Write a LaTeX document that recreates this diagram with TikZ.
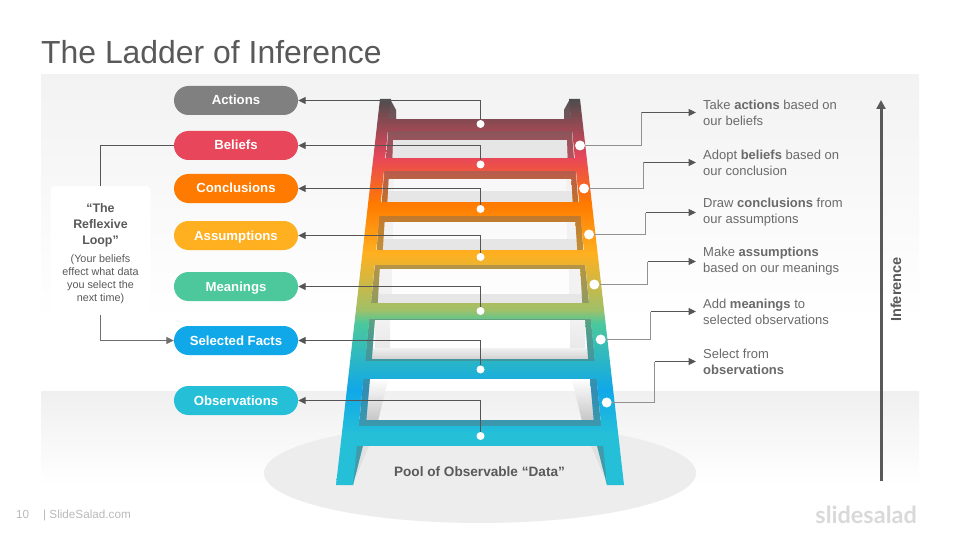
\documentclass[tikz,border=0pt]{standalone}
\usepackage{fontspec}
\setmainfont{Liberation Sans}
\newfontfamily\logofont{Lato}
\usetikzlibrary{arrows.meta}
\definecolor{cgray}{HTML}{808080}
\definecolor{cred}{HTML}{E8465A}
\definecolor{corange}{HTML}{FF7A00}
\definecolor{camber}{HTML}{FFB020}
\definecolor{colive}{HTML}{A0C068}
\definecolor{cgreen}{HTML}{4CC89C}
\definecolor{cblue}{HTML}{10A8E8}
\definecolor{ccyan}{HTML}{25C0D8}
\definecolor{ctop}{HTML}{4D4D4D}
\definecolor{cink}{HTML}{595959}
\definecolor{cline}{HTML}{555555}
\definecolor{cfloor}{HTML}{E6E6E6}
\pgfdeclareverticalshading{ladderfade}{100bp}{color(0bp)=(ccyan); color(31.5bp)=(ccyan);
  color(37.3bp)=(cblue); color(46bp)=(cgreen); color(47.7bp)=(colive); color(55bp)=(camber); color(61.5bp)=(corange);
  color(67.5bp)=(cred); color(75bp)=(ctop); color(100bp)=(ctop)}
\newcommand\loophead{\fontsize{12.4}{16}\selectfont\bfseries}
\newcommand\loopbody{\fontsize{10.8}{13}\selectfont}
\tikzset{
  ladderpart/.style={path picture={\shade[shading=ladderfade] (0,99) rectangle (960,485);}},
  ladderside/.style={path picture={\shade[shading=ladderfade] (0,99) rectangle (960,485);
    \fill[cline!90,opacity=.4] (0,99) rectangle (960,485);}},
  pill/.style={fill=#1,rounded corners=14.5pt,minimum width=124pt,minimum height=29pt,inner sep=0pt,
    text height=10.5pt,text depth=1.5pt,text=white,font=\fontsize{13.2}{16}\selectfont\bfseries},
  dotnode/.style={circle,fill=white,inner sep=0pt,minimum size=#1},
  arr/.style={cline,line width=1pt,-{Stealth[length=7.5pt,width=7pt,inset=0pt]}},
  lightline/.style={cline!65,line width=1pt},
  note/.style={anchor=west,inner sep=0pt,inner xsep=7pt,align=left,text=cink!90,font=\fontsize{13}{16}\selectfont}
}
\begin{document}
\begin{tikzpicture}[x=1pt,y=-1pt]
\useasboundingbox (0,0) rectangle (960,540);
\fill[white] (0,0) rectangle (960,540);
% backdrop
\shade[top color=black!5,bottom color=white] (41,75) rectangle (919,320);
\shade[top color=black!6,bottom color=white] (41,391) rectangle (919,485);
\fill[black!7] (480,473) ellipse (216 and 50);
% floor behind the rungs
\fill[cfloor] (392,140) rectangle (568,159);
\foreach \ya/\yb/\yc/\wa/\wb in {179/190.7/202.7/92.7/86, 221.7/239/250.7/97/87.3, 268/294/303.3/102/88.5}{
  \fill[black!5] (480-\wa,\ya) rectangle (480-\wb,\yb);
  \fill[black!5] (480+\wa,\ya) rectangle (480+\wb,\yb);
  \fill[cfloor] (480-\wa,\yb) rectangle (480+\wa,\yc);
}
\foreach \s in {-1,1}{
  \shade[top color=black!5,bottom color=black!9] (480+\s*105,319) rectangle (480+\s*90,348.3);
  \shade[top color=white,bottom color=black!22] (480+\s*110,378.3) -- (480+\s*91.7,378.3) -- (480+\s*101.7,420) -- (480+\s*114.3,420) -- cycle;
  \fill[black!12] (480+\s*117,445.7) -- (480+\s*111,445.7) -- (480+\s*124,476) -- (480+\s*127,476) -- cycle;
}
\shade[top color=black!6,bottom color=black!20] (372,348.3) rectangle (588,361);
% inner faces of the ladder
\foreach \s in {-1,1}{
  \path[ladderside] (480+\s*90,99) -- (480+\s*84,110) -- (480+\s*84,120) -- (480+\s*91,120) -- cycle;
  \path[ladderside] (480+\s*117,445.7) -- (480+\s*125,445.7) -- (480+\s*127,485) -- cycle;
  \foreach \ya/\yb/\oa/\ia/\ob/\ib in {130.7/159/91.7/86.7/94/87.7, 171/202.7/95.7/91/98.3/92.7,
    215/250.7/101/95/103.3/97.3, 264/303.3/105/100/109/102.3,
    318/361/110.7/105/115/108.3, 378.3/426.7/116.7/110/121/114.3}{
    \path[ladderside] (480+\s*\oa,\ya) -- (480+\s*\ia,\ya) -- (480+\s*\ib,\yb) -- (480+\s*\ob,\yb) -- cycle;
  }
}
\foreach \ya/\yb/\w in {130.7/140/92, 171/179/95.7, 215/221.7/101, 264/268/105, 318/319.2/110.7, 359.8/361/115, 420/426.7/121}{
  \path[ladderside] (480-\w,\ya) rectangle (480+\w,\yb);
}
% rails and rungs
\path[ladderpart] (380,99) -- (391,99) -- (353,485) -- (336,485) -- cycle;
\path[ladderpart] (580,99) -- (569,99) -- (607,485) -- (624,485) -- cycle;
\foreach \ya/\yb/\w in {119.3/130.7/95, 159/171/99, 202.7/215/103, 250.7/264/108, 303.3/318.3/113, 361/378.3/119, 426.7/445.7/125}{
  \path[ladderpart] (480-\w,\ya) rectangle (480+\w,\yb);
}
% steps
\node[pill=cgray] (actions) at (236,100.5) {Actions};
\node[pill=cred] (beliefs) at (236,145.5) {Beliefs};
\node[pill=corange] (conclusions) at (236,188.5) {Conclusions};
\node[pill=camber] (assumptions) at (236,235.5) {Assumptions};
\node[pill=cgreen] (meanings) at (236,286.5) {Meanings};
\node[pill=cblue] (facts) at (236,340.5) {Selected Facts};
\node[pill=ccyan] (observations) at (236,400.5) {Observations};
\foreach \n/\y in {A/124,B/164.5,C/209,D/257,E/311,F/369.5,G/436}{
  \node[dotnode=8pt] (dot\n) at (480.5,\y) {};
}
\foreach \n/\t in {A/actions,B/beliefs,C/conclusions,D/assumptions,E/meanings,F/facts,G/observations}{
  \draw[arr] (dot\n) |- (\t);
}
% right hand notes
\node[note] (noteA) at (696,112.5) {Take \textbf{actions} based on\\our beliefs};
\node[note] (noteB) at (696,162.5) {Adopt \textbf{beliefs} based on\\our conclusion};
\node[note] (noteC) at (696,212.5) {Draw \textbf{conclusions} from\\our assumptions};
\node[note] (noteD) at (696,261.5) {Make \textbf{assumptions}\\based on our meanings};
\node[note] (noteE) at (696,311.5) {Add \textbf{meanings} to\\selected observations};
\node[note] (noteF) at (696,361.5) {Select from\\\textbf{observations}};
\foreach \n/\x/\y/\s/\u in {A/580/145.5/641.5/112.5, B/584/188.5/643.5/162.5, C/589/234.5/645.5/212.5,
  D/594.3/284.5/647.5/261.5, E/600.7/339.5/650.5/311.5, F/606.7/402.5/654.5/361.5}{
  \node[dotnode=10pt] (rail\n) at (\x,\y) {};
  \coordinate (bend\n) at (\s,\u);
  \draw[lightline] (rail\n) -| (bend\n);
  \draw[arr] (bend\n) -- (note\n);
}
% reflexive loop
\node[fill=white,rounded corners=4pt,minimum width=100pt,minimum height=129pt,inner sep=0pt,align=center,text=cink] (loop) at (100.5,250.5)
  {\rule{0pt}{15pt}\loophead “The\\[4pt]\loophead Reflexive\\[4pt]\loophead Loop”\\[6pt]\loopbody (Your beliefs\\[1pt]\loopbody effect what data\\[1pt]\loopbody you select the\\[1pt]\loopbody next time)};
\draw[cline,line width=1pt] (loop.north) |- (beliefs);
\draw[arr,cline!85] (loop.south) |- (facts);
% inference
\coordinate (infbot) at (881,481);
\coordinate (inftop) at (881,100);
\draw[cink,line width=3pt,-{Stealth[length=9pt,width=9pt,inset=0pt]}] (infbot) -- (inftop);
\node[rotate=90,text=cink,font=\fontsize{14.5}{16}\selectfont\bfseries] (inference) at (896,289.5) {Inference};
% texts
\node[anchor=base west,inner sep=0pt,text=cink,font=\fontsize{31.9}{36}\selectfont] (title) at (41,64) {The Ladder of Inference};
\node[text=cink,inner sep=0pt,font=\fontsize{13.6}{16}\selectfont\bfseries] (pool) at (479.5,472) {Pool of Observable “Data”};
\node[anchor=base west,inner sep=0pt,text=black!27,font=\fontsize{11.7}{13}\selectfont] (page) at (16,518) {10};
\node[anchor=base west,inner sep=0pt,text=black!27,font=\fontsize{11.7}{13}\selectfont] (site) at (43,518) {| SlideSalad.com};
\node[anchor=base east,inner sep=0pt,text=black!15,font=\logofont\fontsize{23.5}{26}\selectfont\bfseries] (logo) at (917,523) {slidesalad};
\end{tikzpicture}
\end{document}
